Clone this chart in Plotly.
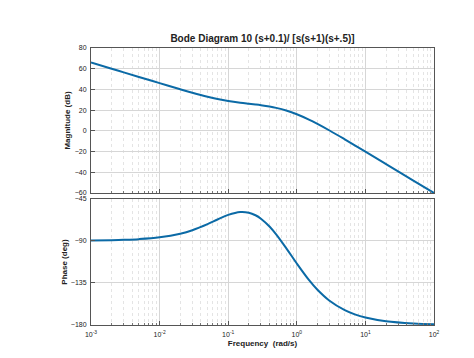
import plotly.graph_objects as go

freq = [0.001, 0.002, 0.003, 0.005, 0.01, 0.02, 0.03, 0.05, 0.07, 0.1, 0.15, 0.2, 0.25, 0.3, 0.4,
        0.5, 0.7, 1, 1.5, 2, 3, 5, 7, 10, 20, 50, 100]
mag_db = [66.0, 60.0, 56.5, 52.05, 46.06, 40.16, 36.83, 32.96, 30.75, 28.82, 27.15, 26.18, 25.43, 24.77, 23.49,
          22.21, 19.66, 16.06, 10.92, 6.74, 0.35, -8.17, -13.91, -20.05, -32.05, -47.96, -60.0]
phase_deg = [-89.6, -89.2, -88.8, -88.0, -86.01, -82.13, -78.45, -72.01, -66.98, -62.02, -58.92, -59.68, -62.41, -66.09, -74.5,
             -82.88, -97.58, -114.14, -131.69, -142.25, -154.02, -164.13, -168.6, -172.0, -176.0, -178.39, -179.2]

x_tickvals = [0.001, 0.01, 0.1, 1, 10, 100]
x_ticktext = ["10<sup>-3</sup>", "10<sup>-2</sup>", "10<sup>-1</sup>", "10<sup>0</sup>", "10<sup>1</sup>", "10<sup>2</sup>"]
mag_ticks = [-60, -40, -20, 0, 20, 40, 60, 80]
phase_ticks = [-180, -135, -90, -45]

minor_vals = [m * d for d in x_tickvals[:-1] for m in range(2, 10)]

LINE = "#0b6aa6"
FONT = "Liberation Sans"

fig = go.Figure()
fig.add_trace(go.Scatter(x=freq, y=mag_db, mode="lines", line=dict(color=LINE, width=2, shape="spline"),
                         xaxis="x", yaxis="y", showlegend=False))
fig.add_trace(go.Scatter(x=freq, y=phase_deg, mode="lines", line=dict(color=LINE, width=2, shape="spline"),
                         xaxis="x2", yaxis="y2", showlegend=False))

common_x = dict(type="log", range=[-3, 2], tickvals=x_tickvals, showline=True, linecolor="#555", linewidth=1,
                mirror=True, ticks="inside", ticklen=4, tickcolor="#555",
                showgrid=True, gridcolor="#d6d6d6", gridwidth=1, zeroline=False,
                minor=dict(tickmode="array", tickvals=minor_vals, showgrid=True, gridcolor="#e4e4e4",
                           griddash="dot", ticks="inside", ticklen=2, tickcolor="#777"),
                ticklabelstandoff=3,
                tickfont=dict(family=FONT, size=7, color="#222"))
common_y = dict(showline=True, linecolor="#555", linewidth=1, mirror=True, ticks="inside", ticklen=4, tickcolor="#555",
                showgrid=True, gridcolor="#d6d6d6", gridwidth=1, zeroline=False, ticklabelstandoff=2,
                tickfont=dict(family=FONT, size=7, color="#222"))

fig.update_layout(
    width=466, height=350,
    margin=dict(l=83, r=40, t=40, b=33),
    paper_bgcolor="white", plot_bgcolor="white",
    xaxis=dict(common_x, domain=[0, 1], anchor="y", showticklabels=False),
    yaxis=dict(common_y, domain=[0.4765, 1], range=[-60, 80], tickvals=mag_ticks,
               title=dict(text="<b>Magnitude (dB)</b>", font=dict(family=FONT, size=8, color="#222"), standoff=2)),
    xaxis2=dict(common_x, domain=[0, 1], anchor="y2", ticktext=x_ticktext,
                title=dict(text="<b>Frequency  (rad/s)</b>", font=dict(family=FONT, size=8, color="#222"), standoff=2)),
    yaxis2=dict(common_y, domain=[0, 0.4549], range=[-180, -45], tickvals=phase_ticks,
                title=dict(text="<b>Phase (deg)</b>", font=dict(family=FONT, size=8, color="#222"), standoff=2)),
    title=dict(text="<b>Bode Diagram 10 (s+0.1)/ [s(s+1)(s+.5)]</b>", x=0.5, xref="paper", xanchor="center",
               y=1 - 30 / 350, yref="container", yanchor="middle", font=dict(family=FONT, size=10, color="#222")),
)

fig.write_html("out.html")
